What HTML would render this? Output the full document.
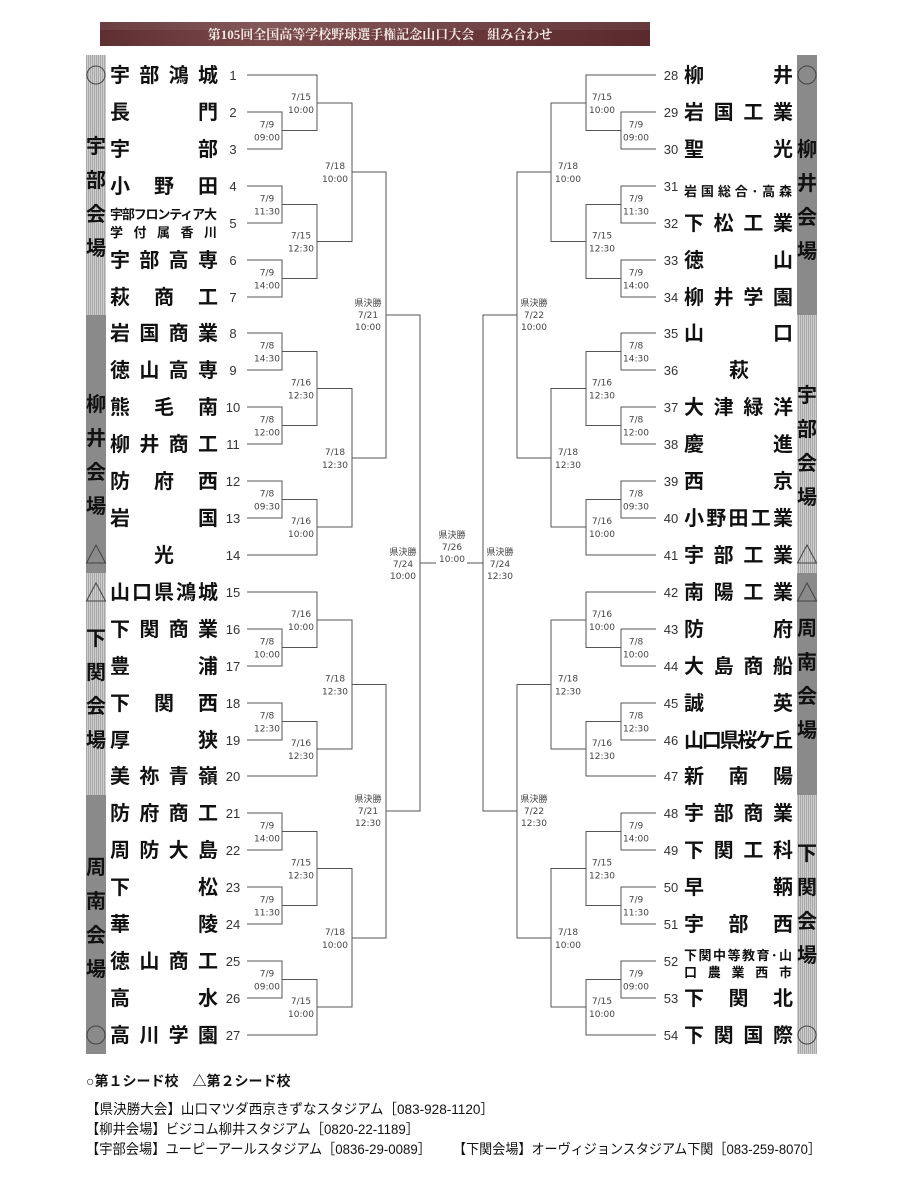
<!DOCTYPE html>
<html><head><meta charset="utf-8"><style>
body{margin:0;background:#fff;}
svg{display:block;}
.n{font-family:"Liberation Sans","Noto Sans CJK JP",sans-serif;font-weight:bold;font-size:20px;fill:#111;}
.s{font-family:"Liberation Sans","Noto Sans CJK JP",sans-serif;font-weight:bold;font-size:13px;fill:#111;}
.num{font-family:"Liberation Sans","DejaVu Sans",sans-serif;font-size:13px;fill:#333;text-anchor:middle;}
.l{font-family:"DejaVu Sans","Noto Sans CJK JP",sans-serif;font-size:9px;fill:#444;text-anchor:middle;}
.v{font-family:"Liberation Sans","Noto Sans CJK JP",sans-serif;font-weight:bold;font-size:20px;fill:#111;text-anchor:middle;}
.f{font-family:"Liberation Sans","Noto Sans CJK JP",sans-serif;font-size:14px;fill:#111;}
</style></head><body>
<svg width="915" height="1200" viewBox="0 0 915 1200" xmlns="http://www.w3.org/2000/svg">
<defs>
<pattern id="st" width="2" height="4" patternUnits="userSpaceOnUse"><rect width="2" height="4" fill="#cdcdcd"/><rect width="1" height="4" fill="#a8a8a8"/></pattern>
<linearGradient id="hd" x1="0" x2="1" y1="0" y2="0"><stop offset="0" stop-color="#5e2f31"/><stop offset="0.3" stop-color="#7a4a4b"/><stop offset="0.6" stop-color="#6a3a3c"/><stop offset="1" stop-color="#5a2a2d"/></linearGradient>
</defs>
<rect x="100" y="22" width="550" height="24" fill="url(#hd)"/>
<rect x="100" y="22" width="550" height="8" fill="#fff" opacity="0.08"/>
<text x="380" y="39" text-anchor="middle" style="font-family:'Liberation Serif','Noto Serif CJK SC',serif;font-weight:bold;font-size:13px;fill:#f2e8e4">第105回全国高等学校野球選手権記念山口大会　組み合わせ</text>

<rect x="86" y="55" width="20" height="260" fill="url(#st)"/>
<rect x="86" y="315" width="20" height="258" fill="#8a8a8a"/>
<rect x="86" y="573" width="20" height="222" fill="url(#st)"/>
<rect x="86" y="795" width="20" height="259" fill="#8a8a8a"/>
<rect x="797" y="55" width="20" height="260" fill="#8a8a8a"/>
<rect x="797" y="315" width="20" height="258" fill="url(#st)"/>
<rect x="797" y="573" width="20" height="222" fill="#8a8a8a"/>
<rect x="797" y="795" width="20" height="259" fill="url(#st)"/>
<g class="v">
<text x="96" y="153">宇</text><text x="96" y="187">部</text><text x="96" y="221">会</text><text x="96" y="255">場</text>
<text x="96" y="411">柳</text><text x="96" y="445">井</text><text x="96" y="479">会</text><text x="96" y="513">場</text>
<text x="96" y="645">下</text><text x="96" y="679">関</text><text x="96" y="713">会</text><text x="96" y="747">場</text>
<text x="96" y="874">周</text><text x="96" y="908">南</text><text x="96" y="942">会</text><text x="96" y="976">場</text>
<text x="807" y="156">柳</text><text x="807" y="190">井</text><text x="807" y="224">会</text><text x="807" y="258">場</text>
<text x="807" y="402">宇</text><text x="807" y="436">部</text><text x="807" y="470">会</text><text x="807" y="504">場</text>
<text x="807" y="635">周</text><text x="807" y="669">南</text><text x="807" y="703">会</text><text x="807" y="737">場</text>
<text x="807" y="860">下</text><text x="807" y="894">関</text><text x="807" y="928">会</text><text x="807" y="962">場</text>
</g>
<g fill="none" stroke="#444" stroke-width="1">
<circle cx="96" cy="75" r="9"/><circle cx="96" cy="1035" r="9"/>
<circle cx="807" cy="75" r="9"/><circle cx="807" cy="1035" r="9"/>
<path d="M96 545L105.5 563H86.5Z"/><path d="M96 583L105.5 601H86.5Z"/>
<path d="M807 545L816.5 563H797.5Z"/><path d="M807 583L816.5 601H797.5Z"/>
</g>

<g id="br" fill="none" stroke="#555" stroke-width="1">
<path d="M247 112H282V149H247"/>
<path d="M247 75H317V130.5H282"/>
<path d="M247 186H282V223H247"/>
<path d="M247 260H282V297H247"/>
<path d="M282 204.5H317V278.5H282"/>
<path d="M317 103H352V241.5H317"/>
<path d="M247 333H282V370H247"/>
<path d="M247 407H282V444H247"/>
<path d="M282 351.5H317V425.5H282"/>
<path d="M247 481H282V518H247"/>
<path d="M282 499.5H317V555H247"/>
<path d="M317 388.5H352V527H317"/>
<path d="M352 172H386V458H352"/>
<path d="M247 629H282V666H247"/>
<path d="M247 592H317V647.5H282"/>
<path d="M247 703H282V740H247"/>
<path d="M282 721.5H317V776H247"/>
<path d="M317 620H352V749H317"/>
<path d="M247 813H282V850H247"/>
<path d="M247 887H282V924H247"/>
<path d="M282 831.5H317V905.5H282"/>
<path d="M247 961H282V998H247"/>
<path d="M282 979.5H317V1035H247"/>
<path d="M317 868.5H352V1007H317"/>
<path d="M352 684.5H386V938H352"/>
<path d="M386 315H420V811H386"/>
<path d="M420 563H436"/>
</g>
<use href="#br" transform="translate(903,0) scale(-1,1)"/>

<g class="l">
<text x="267" y="127.5">7/9</text><text x="267" y="140.5">09:00</text>
<text x="267" y="201.5">7/9</text><text x="267" y="214.5">11:30</text>
<text x="267" y="275.5">7/9</text><text x="267" y="288.5">14:00</text>
<text x="267" y="348.5">7/8</text><text x="267" y="361.5">14:30</text>
<text x="267" y="422.5">7/8</text><text x="267" y="435.5">12:00</text>
<text x="267" y="496.5">7/8</text><text x="267" y="509.5">09:30</text>
<text x="267" y="644.5">7/8</text><text x="267" y="657.5">10:00</text>
<text x="267" y="718.5">7/8</text><text x="267" y="731.5">12:30</text>
<text x="267" y="828.5">7/9</text><text x="267" y="841.5">14:00</text>
<text x="267" y="902.5">7/9</text><text x="267" y="915.5">11:30</text>
<text x="267" y="976.5">7/9</text><text x="267" y="989.5">09:00</text>
<text x="301" y="100">7/15</text><text x="301" y="113">10:00</text>
<text x="301" y="238.5">7/15</text><text x="301" y="251.5">12:30</text>
<text x="301" y="385.5">7/16</text><text x="301" y="398.5">12:30</text>
<text x="301" y="524">7/16</text><text x="301" y="537">10:00</text>
<text x="301" y="617">7/16</text><text x="301" y="630">10:00</text>
<text x="301" y="746">7/16</text><text x="301" y="759">12:30</text>
<text x="301" y="865.5">7/15</text><text x="301" y="878.5">12:30</text>
<text x="301" y="1004">7/15</text><text x="301" y="1017">10:00</text>
<text x="335" y="169">7/18</text><text x="335" y="182">10:00</text>
<text x="335" y="455">7/18</text><text x="335" y="468">12:30</text>
<text x="335" y="681.5">7/18</text><text x="335" y="694.5">12:30</text>
<text x="335" y="935">7/18</text><text x="335" y="948">10:00</text>
<text x="368" y="306">県決勝</text><text x="368" y="318">7/21</text><text x="368" y="330">10:00</text>
<text x="368" y="802">県決勝</text><text x="368" y="814">7/21</text><text x="368" y="826">12:30</text>
<text x="403" y="555">県決勝</text><text x="403" y="567">7/24</text><text x="403" y="579">10:00</text>
<text x="452" y="538">県決勝</text><text x="452" y="550">7/26</text><text x="452" y="562">10:00</text>
</g>
<g class="l">
<text x="636" y="127.5">7/9</text><text x="636" y="140.5">09:00</text>
<text x="636" y="201.5">7/9</text><text x="636" y="214.5">11:30</text>
<text x="636" y="275.5">7/9</text><text x="636" y="288.5">14:00</text>
<text x="636" y="348.5">7/8</text><text x="636" y="361.5">14:30</text>
<text x="636" y="422.5">7/8</text><text x="636" y="435.5">12:00</text>
<text x="636" y="496.5">7/8</text><text x="636" y="509.5">09:30</text>
<text x="636" y="644.5">7/8</text><text x="636" y="657.5">10:00</text>
<text x="636" y="718.5">7/8</text><text x="636" y="731.5">12:30</text>
<text x="636" y="828.5">7/9</text><text x="636" y="841.5">14:00</text>
<text x="636" y="902.5">7/9</text><text x="636" y="915.5">11:30</text>
<text x="636" y="976.5">7/9</text><text x="636" y="989.5">09:00</text>
<text x="602" y="100">7/15</text><text x="602" y="113">10:00</text>
<text x="602" y="238.5">7/15</text><text x="602" y="251.5">12:30</text>
<text x="602" y="385.5">7/16</text><text x="602" y="398.5">12:30</text>
<text x="602" y="524">7/16</text><text x="602" y="537">10:00</text>
<text x="602" y="617">7/16</text><text x="602" y="630">10:00</text>
<text x="602" y="746">7/16</text><text x="602" y="759">12:30</text>
<text x="602" y="865.5">7/15</text><text x="602" y="878.5">12:30</text>
<text x="602" y="1004">7/15</text><text x="602" y="1017">10:00</text>
<text x="568" y="169">7/18</text><text x="568" y="182">10:00</text>
<text x="568" y="455">7/18</text><text x="568" y="468">12:30</text>
<text x="568" y="681.5">7/18</text><text x="568" y="694.5">12:30</text>
<text x="568" y="935">7/18</text><text x="568" y="948">10:00</text>
<text x="534" y="306">県決勝</text><text x="534" y="318">7/22</text><text x="534" y="330">10:00</text>
<text x="534" y="802">県決勝</text><text x="534" y="814">7/22</text><text x="534" y="826">12:30</text>
<text x="500" y="555">県決勝</text><text x="500" y="567">7/24</text><text x="500" y="579">12:30</text>
</g>

<g class="num">
<text x="233" y="80">1</text><text x="233" y="117">2</text><text x="233" y="154">3</text><text x="233" y="191">4</text><text x="233" y="228">5</text><text x="233" y="265">6</text><text x="233" y="302">7</text><text x="233" y="338">8</text><text x="233" y="375">9</text><text x="233" y="412">10</text><text x="233" y="449">11</text><text x="233" y="486">12</text><text x="233" y="523">13</text><text x="233" y="560">14</text><text x="233" y="597">15</text><text x="233" y="634">16</text><text x="233" y="671">17</text><text x="233" y="708">18</text><text x="233" y="745">19</text><text x="233" y="781">20</text><text x="233" y="818">21</text><text x="233" y="855">22</text><text x="233" y="892">23</text><text x="233" y="929">24</text><text x="233" y="966">25</text><text x="233" y="1003">26</text><text x="233" y="1040">27</text>
<text x="671" y="80">28</text><text x="671" y="117">29</text><text x="671" y="154">30</text><text x="671" y="191">31</text><text x="671" y="228">32</text><text x="671" y="265">33</text><text x="671" y="302">34</text><text x="671" y="338">35</text><text x="671" y="375">36</text><text x="671" y="412">37</text><text x="671" y="449">38</text><text x="671" y="486">39</text><text x="671" y="523">40</text><text x="671" y="560">41</text><text x="671" y="597">42</text><text x="671" y="634">43</text><text x="671" y="671">44</text><text x="671" y="708">45</text><text x="671" y="745">46</text><text x="671" y="781">47</text><text x="671" y="818">48</text><text x="671" y="855">49</text><text x="671" y="892">50</text><text x="671" y="929">51</text><text x="671" y="966">52</text><text x="671" y="1003">53</text><text x="671" y="1040">54</text>
</g>

<g class="n">
<text x="110" y="82" textLength="108" lengthAdjust="spacing">宇部鴻城</text>
<text x="110" y="119" textLength="108" lengthAdjust="spacing">長門</text>
<text x="110" y="156" textLength="108" lengthAdjust="spacing">宇部</text>
<text x="110" y="193" textLength="108" lengthAdjust="spacing">小野田</text>
<text x="110" y="267" textLength="108" lengthAdjust="spacing">宇部高専</text>
<text x="110" y="304" textLength="108" lengthAdjust="spacing">萩商工</text>
<text x="110" y="340" textLength="108" lengthAdjust="spacing">岩国商業</text>
<text x="110" y="377" textLength="108" lengthAdjust="spacing">徳山高専</text>
<text x="110" y="414" textLength="108" lengthAdjust="spacing">熊毛南</text>
<text x="110" y="451" textLength="108" lengthAdjust="spacing">柳井商工</text>
<text x="110" y="488" textLength="108" lengthAdjust="spacing">防府西</text>
<text x="110" y="525" textLength="108" lengthAdjust="spacing">岩国</text>
<text x="164" y="562" text-anchor="middle">光</text>
<text x="110" y="599" textLength="108" lengthAdjust="spacing">山口県鴻城</text>
<text x="110" y="636" textLength="108" lengthAdjust="spacing">下関商業</text>
<text x="110" y="673" textLength="108" lengthAdjust="spacing">豊浦</text>
<text x="110" y="710" textLength="108" lengthAdjust="spacing">下関西</text>
<text x="110" y="747" textLength="108" lengthAdjust="spacing">厚狭</text>
<text x="110" y="783" textLength="108" lengthAdjust="spacing">美祢青嶺</text>
<text x="110" y="820" textLength="108" lengthAdjust="spacing">防府商工</text>
<text x="110" y="857" textLength="108" lengthAdjust="spacing">周防大島</text>
<text x="110" y="894" textLength="108" lengthAdjust="spacing">下松</text>
<text x="110" y="931" textLength="108" lengthAdjust="spacing">華陵</text>
<text x="110" y="968" textLength="108" lengthAdjust="spacing">徳山商工</text>
<text x="110" y="1005" textLength="108" lengthAdjust="spacing">高水</text>
<text x="110" y="1042" textLength="108" lengthAdjust="spacing">高川学園</text>
</g>
<g class="s">
<text x="110" y="219" textLength="107" lengthAdjust="spacing">宇部フロンティア大</text>
<text x="110" y="237" textLength="107" lengthAdjust="spacing">学付属香川</text>
<text x="684" y="196" textLength="108" lengthAdjust="spacing">岩国総合･高森</text>
<text x="684" y="960" textLength="108" lengthAdjust="spacing">下関中等教育･山</text>
<text x="684" y="977" textLength="108" lengthAdjust="spacing">口農業西市</text>
</g>
<g class="n">
<text x="684" y="82" textLength="109" lengthAdjust="spacing">柳井</text>
<text x="684" y="119" textLength="109" lengthAdjust="spacing">岩国工業</text>
<text x="684" y="156" textLength="109" lengthAdjust="spacing">聖光</text>
<text x="684" y="230" textLength="109" lengthAdjust="spacing">下松工業</text>
<text x="684" y="267" textLength="109" lengthAdjust="spacing">徳山</text>
<text x="684" y="304" textLength="109" lengthAdjust="spacing">柳井学園</text>
<text x="684" y="340" textLength="109" lengthAdjust="spacing">山口</text>
<text x="739" y="377" text-anchor="middle">萩</text>
<text x="684" y="414" textLength="109" lengthAdjust="spacing">大津緑洋</text>
<text x="684" y="451" textLength="109" lengthAdjust="spacing">慶進</text>
<text x="684" y="488" textLength="109" lengthAdjust="spacing">西京</text>
<text x="684" y="525" textLength="109" lengthAdjust="spacing">小野田工業</text>
<text x="684" y="562" textLength="109" lengthAdjust="spacing">宇部工業</text>
<text x="684" y="599" textLength="109" lengthAdjust="spacing">南陽工業</text>
<text x="684" y="636" textLength="109" lengthAdjust="spacing">防府</text>
<text x="684" y="673" textLength="109" lengthAdjust="spacing">大島商船</text>
<text x="684" y="710" textLength="109" lengthAdjust="spacing">誠英</text>
<text x="684" y="747" textLength="109" lengthAdjust="spacing">山口県桜ケ丘</text>
<text x="684" y="783" textLength="109" lengthAdjust="spacing">新南陽</text>
<text x="684" y="820" textLength="109" lengthAdjust="spacing">宇部商業</text>
<text x="684" y="857" textLength="109" lengthAdjust="spacing">下関工科</text>
<text x="684" y="894" textLength="109" lengthAdjust="spacing">早鞆</text>
<text x="684" y="931" textLength="109" lengthAdjust="spacing">宇部西</text>
<text x="684" y="1005" textLength="109" lengthAdjust="spacing">下関北</text>
<text x="684" y="1042" textLength="109" lengthAdjust="spacing">下関国際</text>
</g>

<text x="86" y="1086" class="f" style="font-weight:bold">○第１シード校　△第２シード校</text>
<text x="86" y="1114" class="f" textLength="408" lengthAdjust="spacingAndGlyphs">【県決勝大会】山口マツダ西京きずなスタジアム［083-928-1120］</text>
<text x="86" y="1134" class="f" textLength="333" lengthAdjust="spacingAndGlyphs">【柳井会場】ビジコム柳井スタジアム［0820-22-1189］</text>
<text x="86" y="1154" class="f" textLength="345" lengthAdjust="spacingAndGlyphs">【宇部会場】ユーピーアールスタジアム［0836-29-0089］</text>
<text x="453" y="1154" class="f" textLength="368" lengthAdjust="spacingAndGlyphs">【下関会場】オーヴィジョンスタジアム下関［083-259-8070］</text>
</svg>
</body></html>
